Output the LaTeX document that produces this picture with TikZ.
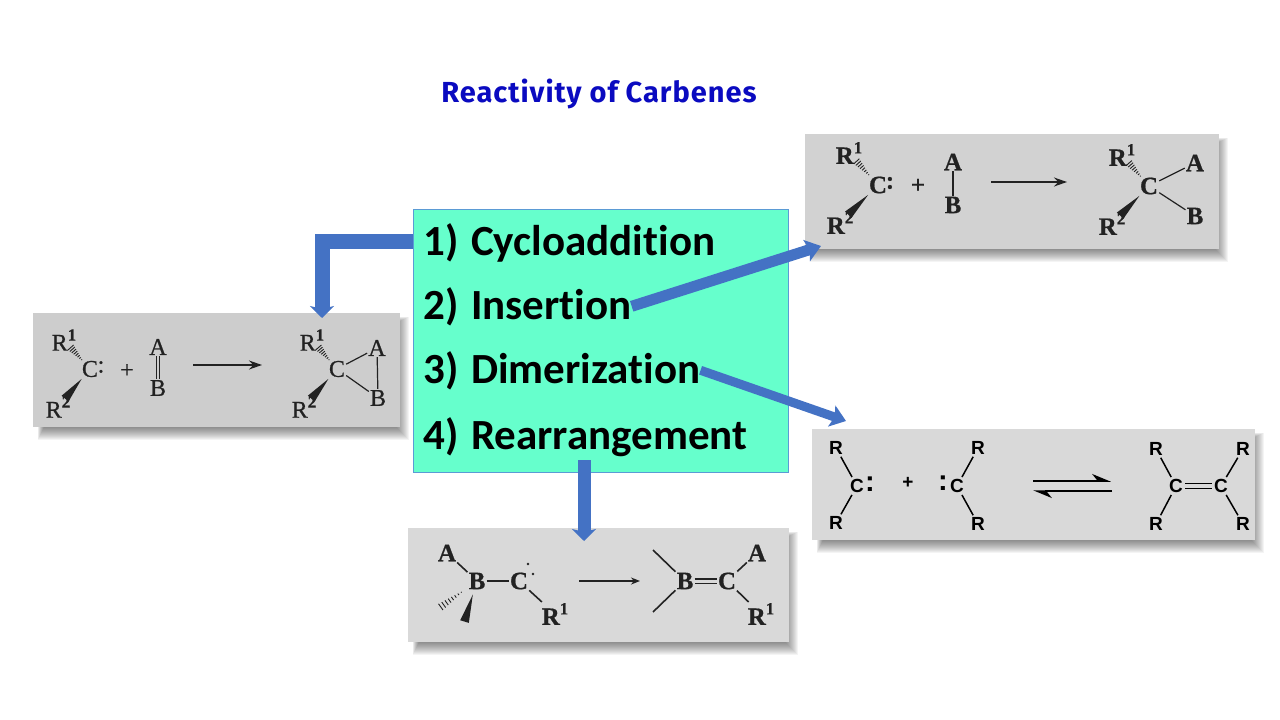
\documentclass[tikz,border=0pt]{standalone}
\usepackage{fontspec}
\setmainfont[FakeBold=0.7]{Liberation Serif}
\newfontfamily\itemfont[Ligatures=NoCommon]{Carlito}
\newfontfamily\titlefont[Ligatures=NoCommon,LetterSpace=3.4]{Fira Sans}
\newfontfamily\dimerfont{Liberation Sans}
\usetikzlibrary{calc}
\usetikzlibrary{arrows.meta}
\definecolor{flowblue}{HTML}{4472C4}
\definecolor{boxgreen}{HTML}{66FFCC}
\definecolor{boxedge}{HTML}{5B9BD5}
\definecolor{titleblue}{HTML}{0A0AC0}
\definecolor{panelA}{HTML}{CDCDCD}
\definecolor{panelB}{HTML}{D2D2D2}
\definecolor{panelC}{HTML}{D9D9D9}
\definecolor{inkgray}{HTML}{222222}
\tikzset{>=latex}
\tikzstyle{flow}=[draw=flowblue,line width=13,-{Stealth[length=12,width=24,inset=3]},flowblue]
\tikzstyle{flow thin}=[draw=flowblue,line width=11,-{Stealth[length=15,width=22,inset=3]},flowblue]
\tikzstyle{item}=[anchor=base west,inner sep=0,font=\itemfont\fontsize{43}{48}\selectfont\bfseries]
\tikzstyle{atom}=[inner sep=1,text=inkgray,font=\fontsize{24}{26}\selectfont]
\tikzstyle{atom bold}=[inner sep=1,text=inkgray,font=\fontsize{25}{27}\selectfont\bfseries]
\tikzstyle{atom sans}=[inner sep=2,text=black,font=\dimerfont\fontsize{19}{22}\selectfont\bfseries]
\tikzstyle{dots}=[inner sep=0,text=black,font=\dimerfont\fontsize{29}{29}\selectfont\bfseries]
\tikzstyle{bond}=[draw=inkgray,line width=1.2]
\tikzstyle{bond sans}=[draw=black,line width=1.5]
\tikzstyle{reaction}=[draw=inkgray,line width=1.3,-{Stealth[length=13,width=9]}]
\tikzstyle{harpoon}=[draw=black,line width=1.5,-{Stealth[left,length=17,width=14]}]
\newcommand\rsup[1]{R\raisebox{0.42em}{\fontsize{17}{17}\selectfont\bfseries #1}}
% soft shadow, then the gray plate
\newcommand\plate[5]{%
  \foreach \k in {0,...,13}{
    \fill[black,opacity=0.045] ({#1+11-0.5*\k},{#2+10-0.5*\k}) rectangle ({#3-4+\k},{#4+\k});
  }
  \fill[#5] (#1,#2) rectangle (#3,#4);
}
% wedge and hashed bond, narrow end on the first node
\newcommand\wedgebond[2]{%
  \fill[inkgray] ($(#1)!0.26!(#2)$) -- ($(#1)!0.78!(#2)!4.5pt!90:(#2)$) -- ($(#1)!0.78!(#2)!-4.5pt!90:(#2)$) -- cycle;
}
\newcommand\hashbond[2]{%
  \foreach \t in {0.32,0.38,...,0.74}{
    \pgfmathsetmacro\hw{0.3+8*(\t-0.3)}
    \draw[inkgray,line width=0.9] ($(#1)!\t!(#2)!\hw pt!90:(#2)$) -- ($(#1)!\t!(#2)!-\hw pt!90:(#2)$);
  }
}

\begin{document}
\begin{tikzpicture}[x=1pt,y=-1pt]
  \useasboundingbox (0,0) rectangle (1280,720);

  % TITLE
  \node[text=titleblue,font=\titlefont\fontsize{29}{34}\selectfont\bfseries] (title) at (599,93.5) {Reactivity of Carbenes};

  % LIST
  \node[draw=boxedge,fill=boxgreen,line width=0.7,minimum width=375,minimum height=263,inner sep=0] (box) at (601,341) {};
  \node[item] (item1) at (423,255) {\makebox[48pt][l]{1)}Cycloaddition};
  \node[item] (item2) at (423,319) {\makebox[48pt][l]{2)}Insertion};
  \node[item] (item3) at (423,383) {\makebox[48pt][l]{3)}Dimerization};
  \node[item] (item4) at (423,449) {\makebox[48pt][l]{4)}Rearrangement};

  % PLATES
  \plate{33}{313}{400}{427}{panelA}
  \plate{805}{134}{1219}{249}{panelB}
  \plate{812}{429}{1255}{540}{panelC}
  \plate{408}{528}{789}{642}{panelC}

  % CYCLOADDITION
  \node[atom] (a1) at (64,340) {\rsup{1}};
  \node[atom] (a2) at (58,407) {\rsup{2}};
  \node[atom] (aC) at (90,369) {C};
  \node[atom] (acolon) at (101,367) {:};
  \node[atom] (aplus) at (127,371) {+};
  \node[atom] (aA) at (158,347) {A};
  \node[atom] (aB) at (158,388) {B};
  \hashbond{aC}{a1}
  \wedgebond{aC}{a2}
  \draw[bond,double=panelA,double distance=2.5,line width=0.9] (aA) -- (aB);
  \coordinate (aS) at (193,365);
  \coordinate (aE) at (262,365);
  \draw[reaction] (aS) -- (aE);
  \node[atom] (ap1) at (312,340) {\rsup{1}};
  \node[atom] (ap2) at (304,407) {\rsup{2}};
  \node[atom] (apC) at (337,369) {C};
  \node[atom] (apA) at (377,348) {A};
  \node[atom] (apB) at (378,398) {B};
  \hashbond{apC}{ap1}
  \wedgebond{apC}{ap2}
  \draw[bond] (apC) -- (apA);
  \draw[bond] (apC) -- (apB);
  \draw[bond] (apA) -- (apB);

  % INSERTION
  \node[atom bold] (b1) at (849,153) {\rsup{1}};
  \node[atom bold] (b2) at (840,223) {\rsup{2}};
  \node[atom bold] (bC) at (878,185) {C};
  \node[atom bold] (bcolon) at (890,183) {:};
  \node[atom bold] (bplus) at (918,186) {+};
  \node[atom bold] (bA) at (953,162) {A};
  \node[atom bold] (bB) at (953,205) {B};
  \hashbond{bC}{b1}
  \wedgebond{bC}{b2}
  \draw[bond] (bA) -- (bB);
  \coordinate (bS) at (991,182);
  \coordinate (bE) at (1067,182);
  \draw[reaction] (bS) -- (bE);
  \node[atom bold] (bp1) at (1122,155) {\rsup{1}};
  \node[atom bold] (bp2) at (1112,224) {\rsup{2}};
  \node[atom bold] (bpC) at (1149,186) {C};
  \node[atom bold] (bpA) at (1195,163) {A};
  \node[atom bold] (bpB) at (1195,216) {B};
  \hashbond{bpC}{bp1}
  \wedgebond{bpC}{bp2}
  \draw[bond] (bpC) -- (bpA);
  \draw[bond] (bpC) -- (bpB);

  % DIMERIZATION
  \node[atom sans] (c1) at (836,448) {R};
  \node[atom sans] (c2) at (836,523) {R};
  \node[atom sans] (cC) at (857,486) {C};
  \node[dots] (ccolon) at (870,484) {:};
  \node[atom sans] (cplus) at (908,483) {+};
  \node[dots] (dcolon) at (943,483) {:};
  \node[atom sans] (dC) at (957,486) {C};
  \node[atom sans] (d1) at (978,448) {R};
  \node[atom sans] (d2) at (978,524) {R};
  \foreach \p/\q in {cC/c1,cC/c2,dC/d1,dC/d2}{
    \draw[bond sans] (\p) -- (\q);
  }
  \coordinate (eqS) at (1033,481);
  \coordinate (eqE) at (1111,481);
  \coordinate (eqT) at (1112,491);
  \coordinate (eqU) at (1033,491);
  \draw[harpoon] (eqS) -- (eqE);
  \draw[harpoon] (eqT) -- (eqU);
  \node[atom sans] (e1) at (1156,449) {R};
  \node[atom sans] (e2) at (1156,524) {R};
  \node[atom sans] (eC) at (1176,486) {C};
  \node[atom sans] (fC) at (1221,486) {C};
  \node[atom sans] (f1) at (1243,449) {R};
  \node[atom sans] (f2) at (1243,524) {R};
  \foreach \p/\q in {eC/e1,eC/e2,fC/f1,fC/f2}{
    \draw[bond sans] (\p) -- (\q);
  }
  \draw[bond sans,double=panelC,double distance=3.5] (eC) -- (fC);

  % REARRANGEMENT
  \node[atom bold] (gA) at (447,553) {A};
  \node[atom bold] (gB) at (477,581) {B};
  \node[atom bold] (gC) at (519,581) {C};
  \node[atom bold] (g1) at (555,614) {\rsup{1}};
  \coordinate (ghash) at (428,616);
  \coordinate (gwedge) at (461,633);
  \hashbond{gB}{ghash}
  \wedgebond{gB}{gwedge}
  \draw[bond,line width=1.6] (gA) -- (gB);
  \draw[bond,line width=1.6] (gB) -- (gC);
  \draw[bond,line width=1.6] (gC) -- (g1);
  \fill[inkgray] (528,564) circle (1.4) (533,574) circle (1.4);
  \coordinate (gS) at (579,581);
  \coordinate (gE) at (640,581);
  \draw[reaction,line width=1.6,-{Stealth[length=9,width=7]}] (gS) -- (gE);
  \coordinate (hup) at (653,550);
  \coordinate (hdown) at (653,612);
  \node[atom bold] (hB) at (685,581) {B};
  \node[atom bold] (hC) at (727,581) {C};
  \node[atom bold] (hA) at (757,553) {A};
  \node[atom bold] (h1) at (761,614) {\rsup{1}};
  \draw[bond,line width=1.6] (hup) -- (hB);
  \draw[bond,line width=1.6] (hdown) -- (hB);
  \draw[bond,line width=1.4,double=panelC,double distance=3] (hB) -- (hC);
  \draw[bond,line width=1.6] (hC) -- (hA);
  \draw[bond,line width=1.6] (hC) -- (h1);

  % FLOW ARROWS
  \coordinate (bendA) at (322,241);
  \coordinate (tipA) at (322,318);
  \coordinate (tipB) at (821,246);
  \coordinate (tipC) at (846,421);
  \coordinate (tipD) at (584,541);
  \draw[flow,line width=15] (box.west |- bendA) -- (bendA) -- (tipA);
  \draw[flow thin] (item2.east) -- (tipB);
  \draw[flow thin,line width=9] (item3.east) -- (tipC);
  \draw[flow] ([yshift=-4pt]item4.south -| tipD) -- (tipD);
\end{tikzpicture}
\end{document}
